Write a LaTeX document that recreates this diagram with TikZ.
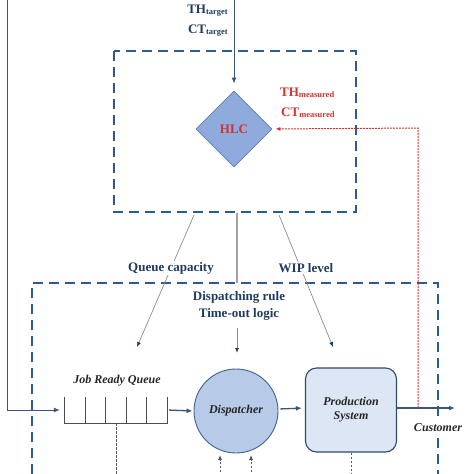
\documentclass[tikz,border=0pt]{standalone}
\usepackage{fontspec}
\setmainfont{Liberation Serif}
\usetikzlibrary{shapes.geometric,arrows.meta,calc}
\definecolor{navy}{HTML}{1F3A60}
\definecolor{boxblue}{HTML}{2E5B8E}
\definecolor{arr}{HTML}{3A5577}
\definecolor{redc}{HTML}{D0342C}
\definecolor{diafill}{HTML}{8FAADC}
\definecolor{diadraw}{HTML}{5A7FB5}
\definecolor{circfill}{HTML}{B7CAE8}
\definecolor{circdraw}{HTML}{3F6391}
\definecolor{prodfill}{HTML}{DCE6F4}
\definecolor{proddraw}{HTML}{2F4A6A}
\definecolor{thin}{HTML}{8C8C8C}
\newcommand{\sbs}[1]{{\fontsize{8.5}{9}\selectfont\raisebox{-1.5pt}{#1}}}
\begin{document}
\begin{tikzpicture}[x=1pt,y=-1pt,
  lbl/.style={font=\fontsize{13}{15}\selectfont\bfseries, text=navy, inner sep=1pt},
  rlbl/.style={font=\fontsize{13}{15}\selectfont\bfseries, text=redc, inner sep=1pt},
  ilbl/.style={font=\fontsize{12}{14}\selectfont\bfseries\itshape, text=black!85, inner sep=1pt, align=center},
  dbox/.style={draw=boxblue, line width=2.6pt, dash pattern=on 10pt off 6pt},
  flow/.style={draw=arr, line width=1.3pt, -{Latex[length=6pt,width=5pt]}},
  ctl/.style={draw=thin, line width=0.7pt, -{Latex[length=5pt,width=4pt,color=navy]}},
  ctlmid/.style={draw=thin!80, line width=1.2pt},
  ctlarr/.style={draw=thin, line width=1pt, -{Latex[length=5pt,width=4pt,color=navy]}},
  fb/.style={draw=redc, line width=1pt, dash pattern=on 2pt off 1pt},
  low/.style={draw=black!65, line width=0.8pt, dash pattern=on 2.5pt off 1.5pt},
  lowarr/.style={low, -{Latex[length=5pt,width=4pt,color=arr]}},
  qline/.style={draw=black!70, line width=0.8pt}]
\useasboundingbox (0,0) rectangle (474,474);
\clip (0,0) rectangle (474,474);

% dashed boxes
\draw[dbox] (114,51) rectangle (356,212);
\draw[dbox] (32,490) -- (32,283) -- (438,283) -- (438,490);

% top inputs
\node[lbl, anchor=base east] (tht) at (229,13) {TH\sbs{target}};
\node[lbl, anchor=base east] (ctt) at (229,33) {CT\sbs{target}};

% HLC
\node[diamond, aspect=1, minimum width=76pt, minimum height=76pt, inner sep=0,
      fill=diafill, draw=diadraw, line width=0.8pt, rlbl] (hlc) at (234,129) {HLC};
\coordinate (topin) at (234,0);
\draw[arr, line width=0.9pt, -{Latex[length=6pt,width=5pt]}, shorten >=7pt] (topin) -- (hlc.north);

\node[rlbl, anchor=base west] (thm) at (279,96) {TH\sbs{measured}};
\node[rlbl, anchor=base west] (ctm) at (280,116) {CT\sbs{measured}};

% control lines
\coordinate (qa) at (194,215);
\coordinate (qb) at (137,347);
\coordinate (wa) at (279,215);
\coordinate (wb) at (333,347);
\coordinate (ma) at (237,213);
\coordinate (mb) at (237,283);
\coordinate (mc) at (237,328);
\coordinate (md) at (237,353);
\draw[ctl] (qa) -- (qb);
\draw[ctl] (wa) -- (wb);
\draw[ctlmid] (ma) -- (mb);
\draw[ctlarr] (mc) -- (md);
\node[lbl, fill=white] (qcap) at (171,268) {Queue capacity};
\node[lbl, fill=white] (wip) at (306,268) {WIP level};
\node[lbl] (drule) at (239,297) {Dispatching rule};
\node[lbl] (tlog) at (239,314) {Time-out logic};

% queue
\node[minimum width=102pt, minimum height=26pt, inner sep=0] (q) at (116,410) {};
\draw[qline] (q.north west) -- (q.south west) -- (q.south east) -- (q.north east);
\foreach \i in {1,...,4}
  \draw[qline] ($(q.south west)!\i/5!(q.south east)$) -- ($(q.north west)!\i/5!(q.north east)$);
\node[ilbl] (jrq) at (117,381) {Job Ready Queue};

% dispatcher and production
\node[circle, minimum size=84pt, inner sep=0, fill=circfill, draw=circdraw, line width=0.9pt, ilbl] (disp) at (236,411) {Dispatcher};
\node[rectangle, rounded corners=11pt, minimum width=91pt, minimum height=84pt, inner sep=0,
      fill=prodfill, draw=proddraw, line width=1.1pt, ilbl] (prod) at (351,410) {Production\\System};

% main flow
\coordinate (lefttop) at (7.5,0);
\draw[flow, line width=1pt, shorten >=5pt] (lefttop) |- (q.west);
\draw[flow, shorten <=2pt, shorten >=1pt] (q.east) -- (disp.west);
\draw[flow, shorten <=2pt, shorten >=3pt] ($(disp.east)+(0,-2)$) -- ($(prod.west)+(0,-2)$);
\coordinate (custend) at (455,408);
\coordinate (fbc) at (418,408);
\draw[flow] ($(prod.east)+(0,-2)$) -- (custend);
\node[ilbl, fill=white, inner sep=2pt] (cust) at (438,428) {Customer};

% feedback
\coordinate (fbt) at (418,128);
\draw[fb, -{Latex[length=5pt,width=4pt]}, shorten >=3pt] (fbc) -- (fbt) -- (hlc.east);

% lower dashed lines
\coordinate (qdown) at (116,480);
\coordinate (d1) at (220,480);
\coordinate (d2) at (251,480);
\coordinate (pdown) at (351,480);
\draw[low] (q.south) -- (qdown);
\draw[lowarr] (d1) -- (220,455);
\draw[lowarr] (d2) -- (251,455);
\draw[low] (prod.south) -- (pdown);
\end{tikzpicture}
\end{document}
